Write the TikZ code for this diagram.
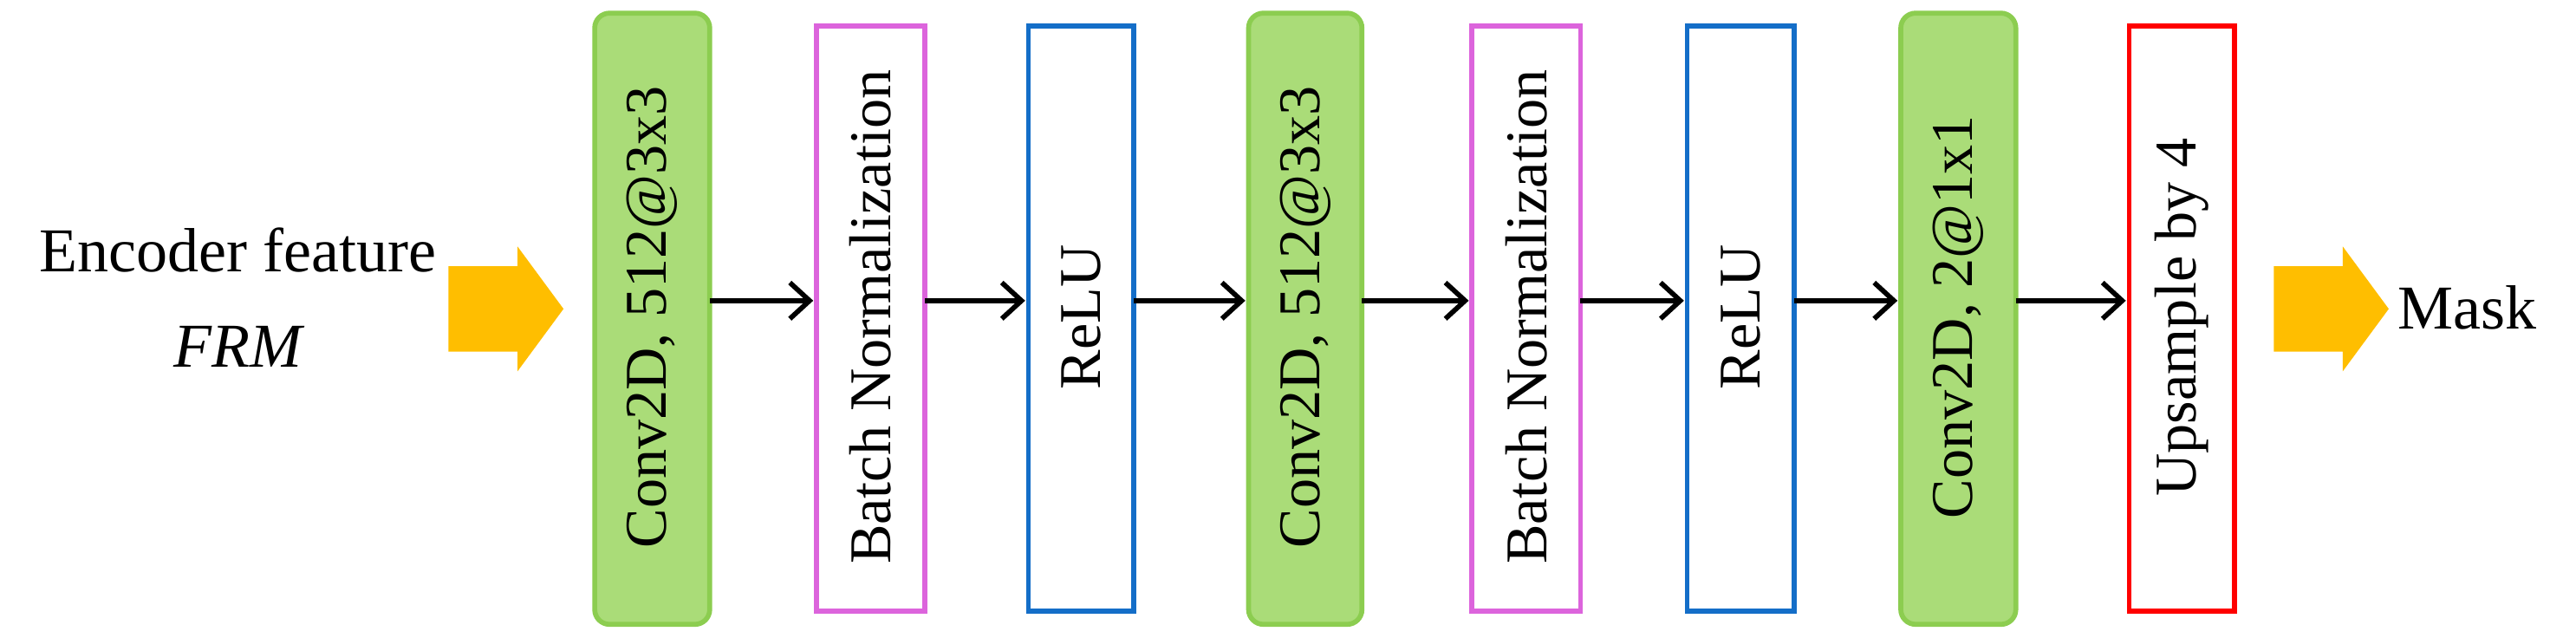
\documentclass[tikz,border=0pt]{standalone}
\usepackage{fontspec}
\setmainfont{Liberation Serif}
\usetikzlibrary{arrows.meta}
\begin{document}
\begin{tikzpicture}[x=1pt,y=-1pt,
  conv/.style={draw={rgb,255:red,140;green,205;blue,80},fill={rgb,255:red,170;green,220;blue,120},line width=3pt,rounded corners=9pt},
  bn/.style={draw={rgb,255:red,220;green,100;blue,220},line width=3pt},
  relu/.style={draw={rgb,255:red,20;green,110;blue,200},line width=3pt},
  up/.style={draw=red,line width=3pt},
  lab/.style={rotate=90,font=\fontsize{36}{42}\selectfont},
  conn/.style={line width=3pt,-{Straight Barb[length=12pt,width=22pt,line width=3pt]}},
  fat/.style={fill={rgb,255:red,255;green,190;blue,0},draw=none},
  txt/.style={font=\fontsize{38}{44}\selectfont}]
\useasboundingbox (0,0) rectangle (1568,388);
\def\bx#1#2#3#4#5#6{\draw[#2] (#3,#5) rectangle (#4,388-#5);
  \node[lab] (#1) at ({(#3+#4)/2},193) {#6};
  \coordinate (#1L) at (#3,183); \coordinate (#1R) at (#4,183);}
\bx{c1}{conv}{362}{432}{8}{Conv2D, 512@3x3}
\bx{b1}{bn}{497}{563}{16}{Batch Normalization}
\bx{r1}{relu}{626}{690}{16}{ReLU}
\bx{c2}{conv}{760}{829}{8}{Conv2D, 512@3x3}
\bx{b2}{bn}{896}{962}{16}{Batch Normalization}
\bx{r2}{relu}{1027}{1092}{16}{ReLU}
\bx{c3}{conv}{1157}{1227}{8}{Conv2D, 2@1x1}
\bx{u1}{up}{1296}{1360}{16}{Upsample by 4}
\draw[conn] (c1R) -- ([xshift=-2pt]b1L);
\draw[conn] (b1R) -- ([xshift=-2pt]r1L);
\draw[conn] (r1R) -- ([xshift=-2pt]c2L);
\draw[conn] (c2R) -- ([xshift=-2pt]b2L);
\draw[conn] (b2R) -- ([xshift=-2pt]r2L);
\draw[conn] (r2R) -- ([xshift=-2pt]c3L);
\draw[conn] (c3R) -- ([xshift=-2pt]u1L);
\def\fatarrow#1{\fill[fat] (#1,162) -- (#1+42,162) -- (#1+42,150) -- (#1+70,188) -- (#1+42,226) -- (#1+42,214) -- (#1,214) -- cycle;}
\fatarrow{273}
\fatarrow{1384}
\node[txt] (enc) at (145,152) {Encoder feature};
\node[txt,font=\fontsize{38}{44}\selectfont\itshape] (frm) at (145,211) {FRM};
\node[txt] (mask) at (1502,187) {Mask};
\end{tikzpicture}
\end{document}
